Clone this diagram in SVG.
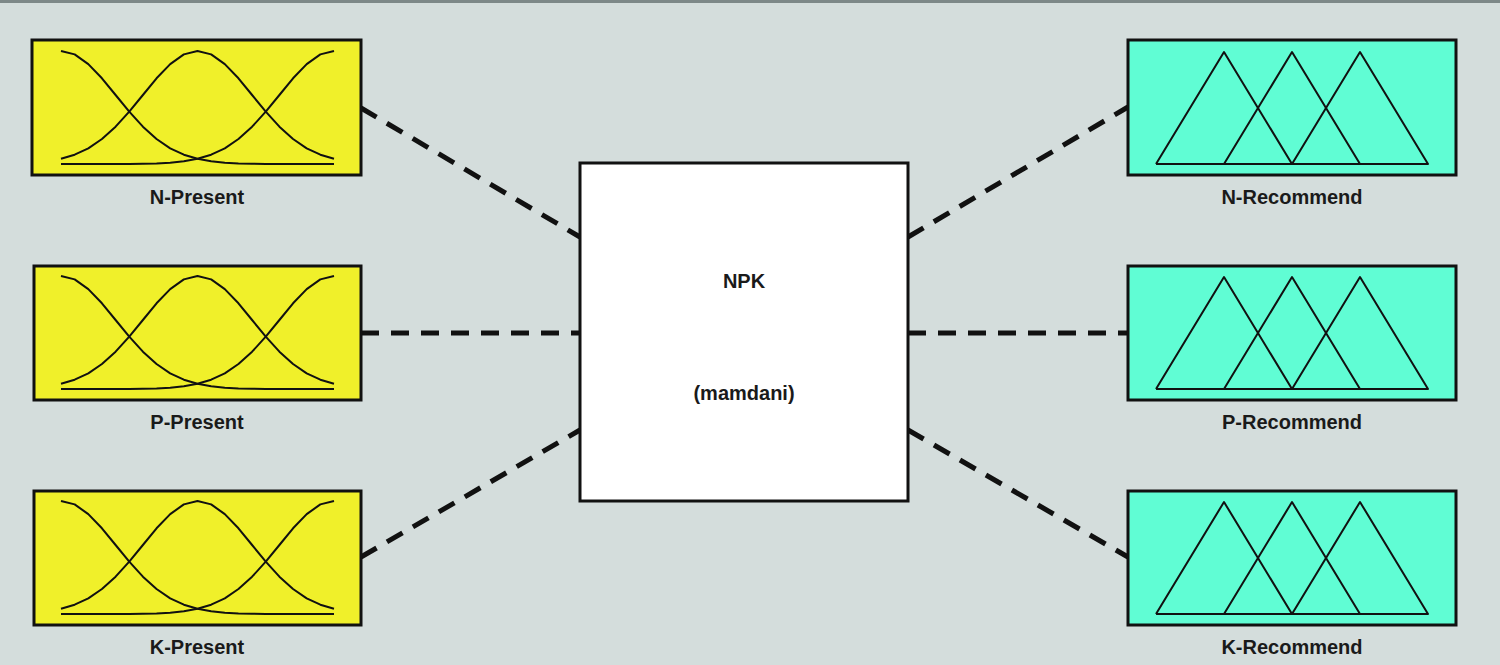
<svg xmlns="http://www.w3.org/2000/svg" xmlns:xlink="http://www.w3.org/1999/xlink" width="1500" height="665" viewBox="0 0 1500 665">
<style>
.in{fill:#f0f02a;stroke:#111;stroke-width:3}
.out{fill:#60fdd4;stroke:#111;stroke-width:3}
.mf{fill:none;stroke:#111;stroke-width:2;stroke-linejoin:round}
.lbl{font-family:"Liberation Sans",Arial,sans-serif;font-size:20px;font-weight:bold;fill:#1a1a1a;text-anchor:middle}
.dash{stroke:#111;stroke-width:5;stroke-dasharray:18 12;fill:none}
</style>
<defs>
<g id="gauss">
<polyline class="mf" points="29,11 42.65,14.4 56.3,24.1 69.95,38.3 83.6,55 97.25,71.7 110.9,86.7 124.55,99 138.2,108.3 151.85,114.7 165.5,118.8 179.15,121.3 192.8,122.7 206.45,123.4 220.1,123.7 233.75,124 302,124"/>
<polyline class="mf" transform="translate(331,0) scale(-1,1)" points="29,11 42.65,14.4 56.3,24.1 69.95,38.3 83.6,55 97.25,71.7 110.9,86.7 124.55,99 138.2,108.3 151.85,114.7 165.5,118.8 179.15,121.3 192.8,122.7 206.45,123.4 220.1,123.7 233.75,124 302,124"/>
<polyline class="mf" points="29,118.8 42.65,114.7 56.3,108.3 69.95,99 83.6,86.7 97.25,71.7 110.9,55 124.55,38.3 138.2,24.1 151.85,14.4 165.5,11 179.15,14.4 192.8,24.1 206.45,38.3 220.1,55 233.75,71.7 247.4,86.7 261.05,99 274.7,108.3 288.35,114.7 302,118.8"/>
</g>
<g id="tri">
<polyline class="mf" points="28,124 96,12 164,124 232,12 300,124 28,124"/>
<polyline class="mf" points="96,124 164,12 232,124"/>
</g>
</defs>
<rect width="1500" height="665" fill="#d4dddc"/>
<rect width="1500" height="3" fill="#7d8888"/>
<g id="connectors">
<line class="dash" x1="361" y1="108" x2="580" y2="237"/>
<line class="dash" x1="361" y1="333" x2="580" y2="333"/>
<line class="dash" x1="361" y1="557" x2="580" y2="430"/>
<line class="dash" x1="908" y1="237" x2="1128" y2="107"/>
<line class="dash" x1="908" y1="333" x2="1128" y2="333"/>
<line class="dash" x1="908" y1="430" x2="1128" y2="557"/>
</g>
<g id="n-present" transform="translate(32,40)"><rect class="in" x="0" y="0" width="329" height="135"/><use xlink:href="#gauss"/><text class="lbl" x="165" y="164">N-Present</text></g>
<g id="p-present" transform="translate(32,265)"><rect class="in" x="2" y="1" width="327" height="134"/><use xlink:href="#gauss"/><text class="lbl" x="165" y="164">P-Present</text></g>
<g id="k-present" transform="translate(32,490)"><rect class="in" x="2" y="1" width="327" height="134"/><use xlink:href="#gauss"/><text class="lbl" x="165" y="164">K-Present</text></g>
<g id="npk"><rect x="580" y="163" width="328" height="338" fill="#fff" stroke="#111" stroke-width="3"/><text class="lbl" x="744" y="288">NPK</text><text class="lbl" x="744" y="400">(mamdani)</text></g>
<g id="n-recommend" transform="translate(1128,40)"><rect class="out" x="0" y="0" width="328" height="135"/><use xlink:href="#tri"/><text class="lbl" x="164" y="164">N-Recommend</text></g>
<g id="p-recommend" transform="translate(1128,265)"><rect class="out" x="0" y="1" width="328" height="134"/><use xlink:href="#tri"/><text class="lbl" x="164" y="164">P-Recommend</text></g>
<g id="k-recommend" transform="translate(1128,490)"><rect class="out" x="0" y="1" width="328" height="134"/><use xlink:href="#tri"/><text class="lbl" x="164" y="164">K-Recommend</text></g>
</svg>
